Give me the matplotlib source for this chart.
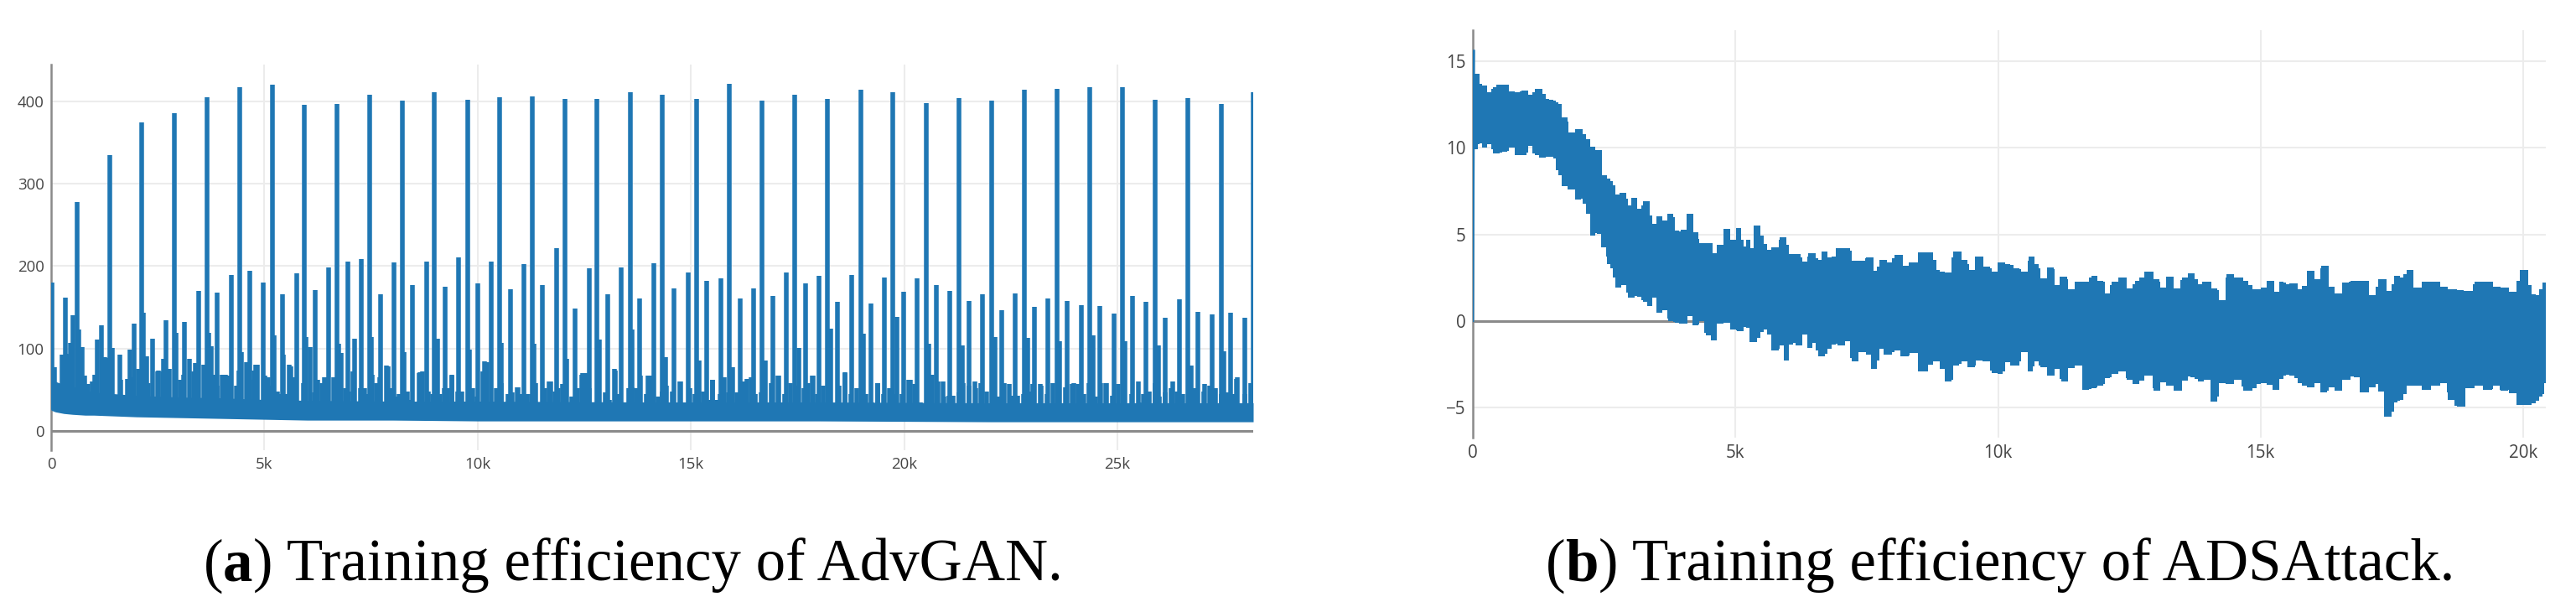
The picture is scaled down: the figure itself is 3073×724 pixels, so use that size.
import numpy as np
import matplotlib.pyplot as plt
from matplotlib.offsetbox import TextArea, HPacker, AnchoredOffsetbox

BLUE = '#1f77b4'

# ==========================================
# (a) AdvGAN loss
# ==========================================
adv_end = 28180
# solid part of the noisy curve
adv_band_x = [0, 100, 300, 500, 800, 1000, 1500, 2000, 3000, 4000, 5000, 6000, 8000, 10000,
              14000, 18000, 22000, 26000, 28180]
adv_band_lo = [25, 23, 21, 20, 19, 19, 18, 17, 16, 15, 14, 13, 13, 12, 12, 12, 11, 11, 11]
adv_band_hi = [65, 60, 56, 54, 50, 47, 45, 43, 41, 40, 38, 37, 36, 36, 35, 35, 34, 34, 34]
# big periodic spikes
adv_major_x = [600, 1370, 2130, 2890, 3660, 4420, 5180, 5940, 6710, 7460, 8230, 8990, 9760,
               10520, 11280, 12050, 12800, 13570, 14330, 15141, 15905, 16670, 17434, 18199,
               18974, 19738, 20513, 21277, 22042, 22807, 23581, 24346, 25110, 25885, 26650,
               27424, 28179]
adv_major_y = [278, 335, 374, 385, 405, 417, 420, 396, 397, 408, 401, 411, 402, 405, 406, 403,
               403, 411, 408, 403, 421, 401, 408, 403, 414, 411, 398, 404, 401, 414, 415, 417,
               417, 402, 404, 397, 411]
# medium spikes
adv_mid_x = [20, 330, 520, 1170, 1940, 2690, 3130, 3450, 3900, 4220, 4650, 4970, 5420, 5750,
             6190, 6500, 6950, 7280, 7720, 8030, 8470, 8800, 9240, 9550, 10000, 10320, 10760,
             11080, 11520, 11840, 12290, 12610, 13050, 13370, 13800, 14130, 14608, 14930,
             15372, 15704, 16147, 16469, 16911, 17233, 17686, 18008, 18440, 18762, 19215,
             19537, 19980, 20302, 20754, 21076, 21519, 21831, 22283, 22605, 23048, 23370,
             23813, 24145, 24587, 24909, 25352, 25674, 26126, 26448, 26891, 27213, 27655, 27987]
adv_mid_y = [180, 162, 140, 128, 130, 134, 132, 170, 168, 189, 194, 180, 166, 191, 171, 198,
             205, 208, 166, 204, 177, 205, 175, 211, 179, 205, 172, 202, 177, 222, 148, 197,
             166, 198, 161, 203, 173, 192, 182, 185, 161, 173, 164, 192, 179, 188, 157, 189,
             155, 186, 169, 185, 177, 170, 158, 166, 146, 167, 150, 161, 158, 153, 152, 142,
             164, 157, 137, 160, 144, 141, 143, 137]
# small spikes (shoulders after the big ones)
adv_small_x = [70, 250, 400, 450, 650, 720, 1080, 1250, 1430, 1610, 1850, 2170, 2250, 2370,
               2500, 2630, 2930, 3250, 3380, 3700, 4000, 4460, 4800, 5220, 5580, 5980, 6400,
               6750, 7120, 7500, 7870, 8270, 8650, 9050, 9400, 9800, 10150, 10560, 10930,
               11320, 11670, 12080, 12450, 12850, 13200, 13610, 14000, 14400, 14740, 15200,
               15500, 15980, 16280, 16750, 17030, 17535, 17840, 18270, 18610, 19034, 19370,
               19820, 20150, 20580, 20900, 21360, 21660, 22120, 22460, 22900, 23190, 23650,
               23970, 24430, 24730, 25180, 25480, 25955, 26290, 26720, 27040, 27495, 27790]
adv_small_y = [77, 92, 92, 107, 123, 102, 111, 89, 101, 92, 99, 143, 90, 112, 72, 87, 119, 87,
               82, 119, 68, 96, 80, 116, 80, 114, 65, 106, 112, 114, 79, 96, 71, 112, 68, 99, 84,
               107, 53, 106, 60, 87, 70, 111, 75, 123, 67, 89, 60, 85, 62, 77, 60, 85, 67, 101,
               67, 124, 71, 118, 58, 138, 62, 106, 60, 104, 60, 114, 57, 113, 57, 109, 58, 116,
               58, 109, 60, 104, 60, 79, 57, 97, 63]
# fine texture on top of the band
adv_tex_x = [64, 200, 355, 792, 865, 956, 1019, 1338, 1629, 1793, 1902, 2048, 2112, 2275, 2521,
             2612, 2776, 3022, 3113, 3340, 3567, 3750, 3813, 3886, 4023, 4087, 4159, 4341, 4405,
             4569, 4660, 4750, 4842, 5006, 5087, 5160, 5297, 5388, 5451, 5524, 5616, 5707, 5907,
             6071, 6162, 6252, 6343, 6435, 6616, 6707, 6799, 6890, 6980, 7071, 7254, 7345, 7435,
             7526, 7618, 7709, 7909, 7982, 8073, 8163, 8254, 8346, 8437, 8618, 8711, 8846, 8937,
             9120, 9211, 9301, 9392, 9529, 9620, 9801, 9894, 9984, 10120, 10211, 10439, 10547,
             10713, 10803, 10939, 11030, 11167, 11258, 11368, 11577, 11713, 11803, 11895, 11986,
             12213, 12350, 12441, 12532, 12624, 12986, 13079, 13232, 13305, 13533, 13624, 13715,
             13807, 13943, 14055, 14219, 14328, 14419, 14556, 14765, 14965, 15102, 15284, 15420,
             15511, 15602, 15675, 15784, 15875, 16075, 16194, 16312, 16403, 16512, 16649, 16876,
             17058, 17195, 17331, 17495, 17650, 17741, 17859, 17968, 18105, 18223, 18469, 18606,
             18742, 18879, 19015, 19106, 19243, 19379, 19516, 19652, 19789, 19953, 20107, 20244,
             20380, 20535, 20653, 20790, 20926, 21045, 21154, 21290, 21381, 21518, 21682, 21791,
             21927, 22064, 22200, 22337, 22519, 22655, 22792, 22928, 23019, 23202, 23338, 23475,
             23611, 23775, 23930, 24066, 24203, 24321, 24476, 24612, 24749, 24885, 25022, 25158,
             25340, 25504, 25613, 25750, 25886, 25977, 26114, 26250, 26387, 26523, 26660, 26796,
             27024, 27160, 27297, 27433, 27570, 27707, 27798, 27980, 28116]
adv_tex_y = [77, 55, 93, 67, 57, 60, 68, 88, 62, 63, 65, 75, 73, 58, 73, 72, 75, 62, 68, 72, 80,
             103, 68, 55, 68, 68, 67, 55, 73, 83, 62, 73, 80, 67, 65, 55, 48, 45, 92, 45, 78, 65,
             58, 102, 47, 62, 58, 65, 65, 48, 95, 52, 48, 72, 52, 52, 45, 68, 58, 65, 78, 52, 42,
             45, 68, 48, 38, 70, 72, 48, 45, 45, 52, 52, 67, 48, 48, 48, 52, 42, 72, 83, 52, 58,
             45, 47, 53, 45, 45, 45, 58, 52, 60, 48, 52, 57, 42, 52, 68, 70, 52, 47, 38, 73, 45,
             52, 53, 52, 67, 45, 67, 42, 48, 55, 48, 60, 52, 45, 48, 38, 62, 38, 45, 65, 47, 47,
             60, 63, 65, 45, 47, 58, 67, 45, 58, 55, 52, 58, 67, 45, 55, 52, 55, 70, 45, 52, 68,
             45, 35, 58, 45, 52, 45, 45, 62, 57, 35, 48, 68, 60, 42, 43, 43, 47, 58, 55, 52, 58,
             48, 52, 42, 58, 43, 43, 45, 48, 57, 55, 45, 58, 40, 53, 57, 57, 45, 58, 42, 58, 58,
             43, 57, 42, 45, 35, 45, 48, 58, 42, 47, 52, 48, 45, 48, 52, 48, 55, 52, 45, 47, 45,
             65, 45, 58]

# ==========================================
# (b) ADSAttack loss
# ==========================================
ads_end = 20430
ads_start_x = [0, 21]
ads_start_y = [0.0, 15.6]
# upper edge of the noisy curve
ads_up_x = [21, 101, 154, 234, 314, 394, 500, 633, 739, 872, 979, 1112, 1261, 1378, 1511,
            1644, 1750, 1884, 2032, 2149, 2309, 2415, 2495, 2628, 2708, 2868, 2974, 3070, 3187,
            3294, 3427, 3560, 3666, 3746, 3879, 3986, 4146, 4252, 4358, 4518, 4598, 4704, 4837,
            4968, 5064, 5154, 5245, 5314, 5394, 5543, 5660, 5777, 5910, 6032, 6165, 6309, 6458,
            6591, 6681, 6830, 6990, 7123, 7256, 7415, 7564, 7681, 7814, 7947, 8107, 8267, 8373,
            8586, 8692, 8825, 8958, 9065, 9214, 9384, 9517, 9623, 9783, 9916, 10066, 10209,
            10369, 10512, 10661, 10741, 10874, 10997, 11114, 11247, 11380, 11539, 11725, 11832,
            11965, 12098, 12231, 12364, 12523, 12683, 12896, 13002, 13135, 13279, 13401, 13534,
            13694, 13800, 13986, 14146, 14279, 14428, 14572, 14694, 14837, 15024, 15210, 15316,
            15396, 15476, 15609, 15795, 15955, 16077, 16221, 16380, 16487, 16620, 16806, 16965,
            17152, 17327, 17471, 17604, 17710, 17854, 17976, 18162, 18322, 18508, 18588, 18801,
            18934, 19200, 19359, 19492, 19599, 19854, 20024, 20157, 20317, 20430]
ads_up_y = [14.3, 14.26, 13.2, 13.6, 13.2, 13.4, 13.65, 13.65, 13.25, 13.2, 13.3, 13.0, 13.4,
            12.85, 12.74, 12.56, 11.5, 10.9, 11.1, 10.5, 9.85, 9.85, 8.4, 8.1, 7.27, 7.4, 6.1,
            7.1, 6.0, 6.9, 5.5, 6.05, 5.8, 6.2, 5.2, 5.1, 6.2, 4.75, 4.5, 4.5, 3.9, 4.4, 5.3,
            4.68, 5.35, 3.7, 4.7, 3.55, 5.5, 4.43, 3.87, 4.27, 4.84, 3.87, 3.84, 3.38, 3.9, 3.21,
            4.0, 3.46, 4.22, 4.19, 3.46, 3.46, 3.67, 2.49, 3.54, 3.3, 3.79, 2.9, 3.38, 3.95,
            3.95, 2.93, 2.82, 2.82, 4.03, 3.3, 2.82, 3.7, 3.13, 2.73, 3.38, 3.22, 2.98, 2.81,
            3.73, 3.03, 2.33, 3.11, 1.92, 2.57, 1.76, 2.25, 2.28, 2.6, 2.25, 1.44, 2.25, 2.49,
            1.76, 2.33, 2.86, 2.41, 1.76, 2.57, 1.76, 2.38, 2.76, 2.09, 2.25, 1.76, 1.03, 2.68,
            2.49, 2.33, 1.84, 1.76, 2.33, 1.44, 2.25, 2.09, 2.17, 1.6, 2.89, 2.33, 3.19, 1.36,
            1.6, 2.22, 2.33, 2.33, 1.36, 2.41, 1.44, 2.6, 2.41, 2.93, 1.92, 2.28, 2.28, 1.92,
            1.84, 1.76, 1.68, 2.28, 2.28, 1.96, 1.92, 1.6, 2.93, 1.52, 1.44, 2.22]
# lower edge of the noisy curve
ads_lo_x = [21, 48, 128, 234, 314, 447, 580, 739, 846, 952, 1085, 1192, 1325, 1458, 1591, 1670,
            1723, 1884, 2016, 2096, 2202, 2256, 2389, 2495, 2575, 2655, 2761, 2894, 3027, 3134,
            3267, 3373, 3453, 3533, 3666, 3773, 3906, 4012, 4146, 4226, 4358, 4465, 4598, 4704,
            4837, 4968, 5101, 5207, 5340, 5473, 5606, 5766, 5873, 5963, 6059, 6218, 6325, 6405,
            6511, 6628, 6777, 6883, 7016, 7149, 7282, 7415, 7522, 7639, 7761, 7894, 8054, 8213,
            8373, 8586, 8745, 8905, 9054, 9171, 9331, 9490, 9623, 9809, 9943, 10050, 10140,
            10316, 10502, 10619, 10715, 10848, 11007, 11140, 11273, 11406, 11539, 11662, 11805,
            11938, 12071, 12204, 12364, 12497, 12630, 12763, 12896, 13029, 13162, 13268, 13428,
            13587, 13747, 13853, 13986, 14109, 14253, 14412, 14572, 14774, 14917, 15077, 15157,
            15290, 15423, 15556, 15715, 15848, 15955, 16088, 16194, 16327, 16487, 16620, 16726,
            16832, 16965, 17125, 17258, 17428, 17550, 17657, 17790, 17976, 18162, 18322, 18482,
            18652, 18827, 18960, 19120, 19333, 19492, 19641, 19785, 19945, 20104, 20227, 20370,
            20430]
ads_lo_y = [11.0, 9.93, 10.35, 10.0, 10.2, 9.7, 9.76, 10.0, 9.6, 9.6, 10.27, 9.7, 9.45, 9.53,
            9.37, 8.4, 7.8, 7.6, 7.0, 7.3, 6.2, 4.92, 5.3, 4.27, 3.7, 3.06, 1.92, 2.1, 1.36,
            1.52, 1.2, 0.88, 1.6, 0.47, 0.63, -0.02, -0.1, -0.18, 0.3, -0.26, -0.02, -0.67,
            -1.15, -0.18, -0.1, -0.5, -0.58, -0.1, -1.23, -0.66, -0.34, -1.72, -0.83, -2.28,
            -1.0, -1.4, -0.66, -1.55, -1.0, -2.04, -1.63, -1.07, -1.4, -1.15, -2.36, -1.8,
            -1.47, -2.76, -1.4, -1.96, -1.55, -2.04, -1.88, -2.92, -2.36, -2.36, -3.49, -2.6,
            -2.2, -2.68, -2.28, -2.36, -3.0, -3.09, -2.28, -2.6, -1.72, -2.93, -2.28, -2.6,
            -3.17, -2.68, -3.5, -2.52, -2.6, -3.97, -3.9, -3.73, -3.33, -3.09, -2.93, -3.33,
            -3.66, -3.09, -3.17, -4.06, -3.41, -3.73, -4.06, -3.17, -3.25, -3.5, -3.41, -4.67,
            -3.58, -3.66, -3.41, -4.06, -3.66, -3.58, -3.5, -3.99, -3.17, -3.09, -3.33, -3.74,
            -3.82, -3.58, -4.14, -3.74, -4.06, -3.41, -3.17, -3.25, -4.14, -3.82, -3.09, -5.52,
            -4.71, -4.55, -3.74, -3.74, -3.99, -3.74, -3.41, -4.55, -4.95, -3.66, -3.58, -3.99,
            -3.74, -4.06, -3.66, -4.87, -4.87, -4.63, -4.22, -3.6]

adv_xticks = [0, 5000, 10000, 15000, 20000, 25000]
adv_xlabels = ['0', '5k', '10k', '15k', '20k', '25k']
adv_yticks = [0, 100, 200, 300, 400]
ads_xticks = [0, 5000, 10000, 15000, 20000]
ads_xlabels = ['0', '5k', '10k', '15k', '20k']
ads_yticks = [-5, 0, 5, 10, 15]


def style_axes(ax, xlim, ylim, xticks, xlabels, yticks, fs):
    ax.set_xlim(*xlim)
    ax.set_ylim(*ylim)
    ax.set_xticks(xticks)
    ax.set_xticklabels(xlabels)
    ax.set_yticks(yticks)
    ax.grid(True, color='#ececec', lw=1.5, zorder=0)
    ax.set_axisbelow(True)
    ax.axhline(0, color='#8a8a8a', lw=2.2, zorder=2)
    for s in ['top', 'right', 'bottom']:
        ax.spines[s].set_visible(False)
    ax.spines['left'].set_color('#8a8a8a')
    ax.spines['left'].set_linewidth(1.8)
    ax.tick_params(length=0, labelsize=fs, labelcolor='#444444', pad=6)
    for lab in ax.get_xticklabels() + ax.get_yticklabels():
        lab.set_family('Open Sans')


fig = plt.figure(figsize=(30.73, 7.24), dpi=100)

# ---- (a) ----
ax1 = fig.add_axes([61 / 3073, 187 / 724, 1434 / 3073, 460 / 724])
lo = np.asarray(adv_band_lo, float)
ax1.fill_between(adv_band_x, lo, adv_band_hi, color=BLUE, lw=0, zorder=3)
for xs, ys in [(adv_major_x, adv_major_y), (adv_mid_x, adv_mid_y),
               (adv_small_x, adv_small_y), (adv_tex_x, adv_tex_y)]:
    base = np.interp(xs, adv_band_x, lo) + 2
    ax1.vlines(xs, base, ys, color=BLUE, lw=4, zorder=3)
style_axes(ax1, (0, adv_end), (-23.5, 444.5), adv_xticks, adv_xlabels, adv_yticks, 13.4)

# ---- (b) ----
ax2 = fig.add_axes([1757 / 3073, 202 / 724, 1280 / 3073, 486 / 724])
ax2.fill_between(ads_up_x, np.interp(ads_up_x, ads_lo_x, ads_lo_y), ads_up_y,
                 step='mid', color=BLUE, lw=0, zorder=3)
ax2.fill_between(ads_lo_x, ads_lo_y, np.interp(ads_lo_x, ads_up_x, ads_up_y),
                 step='mid', color=BLUE, lw=0, zorder=3)
ax2.plot(ads_start_x, ads_start_y, color=BLUE, lw=2, zorder=3)
style_axes(ax2, (0, ads_end), (-6.75, 16.8), ads_xticks, ads_xlabels, ads_yticks, 14.9)


# captions: "(a)" with bold letter, rest regular
def caption(letter, text, xc):
    tp = dict(family='Liberation Serif', fontsize=51, color='black')
    parts = [TextArea('(', textprops=tp),
             TextArea(letter, textprops=dict(tp, weight='bold')),
             TextArea(') ' + text, textprops=tp)]
    pack = HPacker(children=parts, pad=0, sep=0, align='baseline')
    box = AnchoredOffsetbox(loc='lower center', child=pack, pad=0, borderpad=0, frameon=False,
                            bbox_to_anchor=(xc, 0.022), bbox_transform=fig.transFigure)
    fig.add_artist(box)


caption('a', 'Training efficiency of AdvGAN.', 755 / 3073)
caption('b', 'Training efficiency of ADSAttack.', 2386 / 3073)

fig.savefig('out.png', dpi=100)
